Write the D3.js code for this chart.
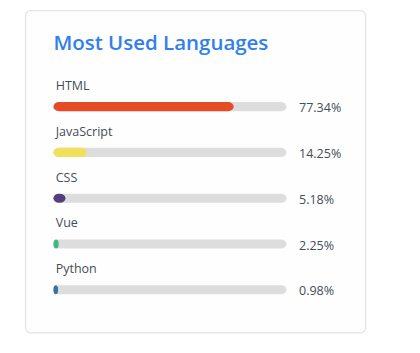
<!DOCTYPE html>
<meta charset="utf-8">
<script src="https://d3js.org/d3.v7.min.js"></script>
<style>
    body{margin:0;background:#fff;}
    text{font-family:"Segoe UI","Open Sans","Noto Sans",sans-serif;}
</style>
<body>
    <div id="card"></div>
    <script>
        const languages=["HTML","JavaScript","CSS","Vue","Python"];
        const percents=[77.34,14.25,5.18,2.25,0.98];
        const colors=["#e34c26","#f1e05a","#563d7c","#41b883","#3572A5"];

        const k=1.137; // card is drawn at a 300px layout, scaled up
        const cardW=300,cardH=284;

        const svg=d3.select("#card")
            .append("svg")
                .attr("width",420)
                .attr("height",353)
            .append("g")
                .attr("transform",`translate(25,10) scale(${k})`);

        svg.append("rect")
            .attr("x",0.5).attr("y",0.5)
            .attr("rx",4.5)
            .attr("width",cardW-1)
            .attr("height",cardH-0.5)
            .attr("fill","#fffefe")
            .attr("stroke","#e4e2e2");

        svg.append("text")
            .attr("x",25).attr("y",35)
            .attr("fill","#2f80ed")
            .style("font-size","18px")
            .style("font-weight",600)
            .text("Most Used Languages");

        const trackW=205;
        const x=d3.scaleLinear()
            .domain([0,100])
            .range([0,trackW]);
        const y=d3.scaleBand()
            .domain(languages)
            .range([56,56+40.25*languages.length])
            .paddingInner(0);

        const rows=svg.selectAll("g.lang")
            .data(languages.map((d,i)=>({name:d,value:percents[i],color:colors[i]})))
            .join("g")
                .attr("class","lang")
                .attr("transform",d=>`translate(25,${y(d.name)})`);

        rows.append("text")
            .attr("x",2).attr("y",14.5)
            .attr("fill","#434d58")
            .style("font-size","11px")
            .text(d=>d.name);

        rows.append("rect")
            .attr("x",0).attr("y",25)
            .attr("rx",5).attr("ry",5)
            .attr("width",x(100))
            .attr("height",8)
            .attr("fill","#ddd");

        rows.append("rect")
            .attr("x",0).attr("y",25)
            .attr("rx",5).attr("ry",5)
            .attr("width",d=>x(Math.max(2,d.value)))
            .attr("height",8)
            .attr("fill",d=>d.color);

        rows.append("text")
            .attr("x",trackW+11).attr("y",34)
            .attr("fill","#434d58")
            .style("font-size","11px")
            .text(d=>d.value.toFixed(2)+"%");
    </script>
</body>
